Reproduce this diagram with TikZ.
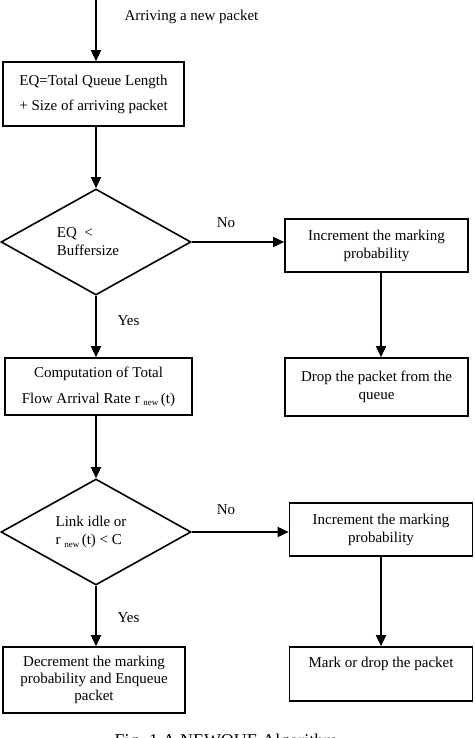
\documentclass[tikz,border=0pt]{standalone}
\usepackage{fontspec}
\setmainfont{Liberation Serif}
\usetikzlibrary{shapes.geometric,arrows.meta}
\newcommand{\subnew}{\raisebox{-2.5pt}{\fontsize{9}{9}\selectfont new}}
\begin{document}
\begin{tikzpicture}[x=1pt,y=-1pt,
  every node/.style={font=\fontsize{15}{18}\selectfont},
  box/.style={draw,line width=1.6pt,rectangle,inner sep=0pt,align=center},
  dia/.style={draw,line width=1.6pt,diamond,inner sep=0pt,aspect=1.8,minimum width=190pt,minimum height=106pt,align=left},
  lbl/.style={inner sep=0pt},
  arr/.style={line width=1.6pt,-{Triangle[length=11pt,width=10pt]}}]
\useasboundingbox (0,0) rectangle (474,738);

\coordinate (start) at (96,0);
\node[lbl] (arrlbl) at (191.5,17) {Arriving a new packet};

\node[box,minimum width=181pt,minimum height=64pt,font=\fontsize{15}{25}\selectfont] (b1) at (93.5,94) {EQ=Total Queue Length\\+ Size of arriving packet};

\node[dia] (d1) at (96,242) {EQ~~<\\Buffersize\makebox[16pt]{}};

\node[box,minimum width=183pt,minimum height=53pt] (r1) at (376.5,245.5) {Increment the marking\\probability};
\node[box,minimum width=183pt,minimum height=58pt] (r2) at (376.5,387) {Drop the packet from the\\queue};

\node[box,minimum width=187pt,minimum height=57pt,font=\fontsize{15}{26}\selectfont] (b2) at (98.5,386.5) {Computation of Total\\Flow Arrival Rate r \subnew\,(t)};

\node[dia] (d2) at (96,532) {Link idle or\makebox[10pt]{}\\r \subnew\,(t) < C};

\node[box,minimum width=183pt,minimum height=53pt] (r3) at (381,529.5) {Increment the marking\\probability};
\node[box,minimum width=183pt,minimum height=54pt] (r4) at (381,674) {Mark or drop the packet\\\strut};

\node[box,minimum width=182pt,minimum height=66pt,font=\fontsize{15}{17}\selectfont] (b3) at (94,680) {Decrement the marking\\probability and Enqueue\\packet};

\node[lbl] (no1) at (226,223) {No};
\node[lbl] (yes1) at (128.5,321) {Yes};
\node[lbl] (no2) at (226,510) {No};
\node[lbl] (yes2) at (128.5,618) {Yes};

\node[lbl,anchor=base,font=\fontsize{18}{22}\selectfont] (cap) at (226,746) {Fig. 1 A NEWQUE Algorithm};

\draw[arr] (start) -- (start |- b1.north);
\draw[arr] (d1.north |- b1.south) -- (d1.north);
\draw[arr] (d1.east) -- (d1.east -| r1.west);
\draw[arr] ([xshift=4.5pt]r1.south) -- ([xshift=4.5pt]r2.north);
\draw[arr] (d1.south) -- (d1.south |- b2.north);
\draw[arr] (d2.north |- b2.south) -- (d2.north);
\draw[arr] (d2.east) -- (d2.east -| r3.west);
\draw[arr] (r3.south) -- (r3.south |- r4.north);
\draw[arr] (d2.south) -- (d2.south |- b3.north);
\end{tikzpicture}
\end{document}
